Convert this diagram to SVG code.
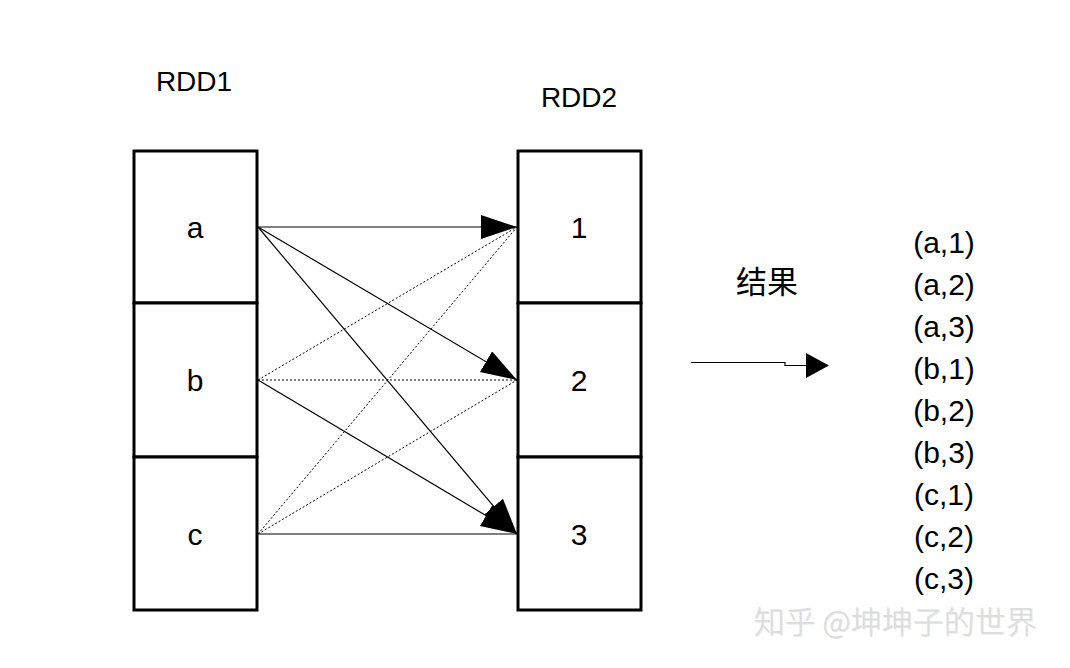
<svg xmlns="http://www.w3.org/2000/svg" width="1070" height="668" viewBox="0 0 1070 668">
<defs>
<style>
.box{fill:#fff;stroke:#000;stroke-width:3}
.t{font-family:"Liberation Sans","Noto Sans CJK SC",sans-serif;font-size:28px;fill:#000;text-anchor:middle}
.lbl{font-family:"Liberation Sans",sans-serif;font-size:30px;fill:#000;text-anchor:middle}
.solid{stroke:#000;stroke-width:1.2;fill:none}
.dot{stroke:#000;stroke-width:1;fill:none;stroke-dasharray:2 2}
.res{font-family:"Liberation Sans",sans-serif;font-size:30px;fill:#000;text-anchor:middle}
</style>
<marker id="ah" markerUnits="userSpaceOnUse" markerWidth="40" markerHeight="30" refX="36" refY="12" orient="auto">
<path d="M0,0 L36,12 L0,24 Z" fill="#000"/>
</marker>
</defs>
<rect width="1070" height="668" fill="#fff"/>
<text class="t" x="194" y="91">RDD1</text>
<text class="t" x="579" y="107">RDD2</text>
<g id="rdd1-a"><rect class="box" x="134" y="151" width="123" height="152"/><text class="lbl" x="195" y="238">a</text></g>
<g id="rdd1-b"><rect class="box" x="134" y="303" width="123" height="154"/><text class="lbl" x="195" y="391">b</text></g>
<g id="rdd1-c"><rect class="box" x="134" y="457" width="123" height="153"/><text class="lbl" x="195" y="545">c</text></g>
<g id="rdd2-1"><rect class="box" x="518" y="151" width="123" height="152"/><text class="lbl" x="579" y="238">1</text></g>
<g id="rdd2-2"><rect class="box" x="518" y="303" width="123" height="154"/><text class="lbl" x="579" y="391">2</text></g>
<g id="rdd2-3"><rect class="box" x="518" y="457" width="123" height="153"/><text class="lbl" x="579" y="545">3</text></g>
<g id="connectors">
<line class="solid" x1="258" y1="227" x2="517" y2="227" marker-end="url(#ah)"/>
<line class="solid" x1="258" y1="227" x2="517" y2="380" marker-end="url(#ah)"/>
<line class="solid" x1="258" y1="227" x2="517" y2="534" marker-end="url(#ah)"/>
<line class="dot" x1="258" y1="380" x2="517" y2="227"/>
<line class="dot" x1="258" y1="380" x2="517" y2="380"/>
<line class="solid" x1="258" y1="380" x2="517" y2="534" marker-end="url(#ah)"/>
<line class="dot" x1="258" y1="534" x2="517" y2="227"/>
<line class="dot" x1="258" y1="534" x2="517" y2="380"/>
<line class="solid" x1="258" y1="534" x2="517" y2="534"/>
<path class="solid" d="M691,362.5 H785 V365.5 H806"/>
<path d="M806,353 L829,365.5 L806,378 Z" fill="#000"/>
</g>
<text x="767" y="293" font-family="'Noto Sans CJK SC',sans-serif" font-size="31" text-anchor="middle" fill="#000">结果</text>
<g id="results">
<text class="res" x="944" y="253">(a,1)</text>
<text class="res" x="944" y="295">(a,2)</text>
<text class="res" x="944" y="337">(a,3)</text>
<text class="res" x="944" y="379">(b,1)</text>
<text class="res" x="944" y="421">(b,2)</text>
<text class="res" x="944" y="463">(b,3)</text>
<text class="res" x="944" y="505">(c,1)</text>
<text class="res" x="944" y="547">(c,2)</text>
<text class="res" x="944" y="589">(c,3)</text>
</g>
<text x="896" y="634" font-family="'Noto Sans CJK SC',sans-serif" font-size="31" font-weight="300" text-anchor="middle" fill="#999" opacity="0.25">知乎 @坤坤子的世界</text>
<text x="895" y="633" font-family="'Noto Sans CJK SC',sans-serif" font-size="31" font-weight="300" text-anchor="middle" fill="#dcdcdc">知乎 @坤坤子的世界</text>
</svg>
